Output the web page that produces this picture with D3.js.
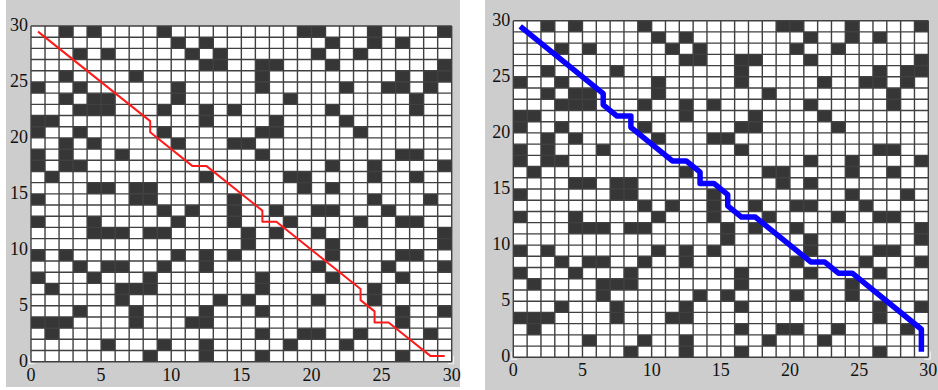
<!DOCTYPE html>
<html>
<head>
    <title>Grid path planning</title>
    <script src="https://d3js.org/d3.v7.min.js"></script>
    <style>
        body { margin: 0; background: #fff; }
        svg { display: block; }
    </style>
</head>
<body>
    <div id="chart"></div>
    <script>
        // Grid size
        const gridCols = 30;
        const gridRows = 30;

        // Obstacle columns, one list per row (row 0 = bottom)
        const obstacleCols = [
            [8, 12, 16, 26],
            [5, 9, 12, 18, 22],
            [1, 16, 19, 20, 23, 28],
            [0, 1, 2, 7, 11, 12, 26],
            [3, 7, 12, 16, 26, 29],
            [6, 13, 15, 20, 24],
            [1, 6, 7, 8, 16, 24],
            [0, 4, 8, 16, 21, 26],
            [3, 5, 6, 9, 12, 20, 25, 29],
            [0, 2, 10, 12, 14, 21, 26, 27],
            [15, 21, 29],
            [4, 5, 6, 8, 9, 15, 17, 20, 29],
            [0, 4, 10, 14, 18, 23, 26, 27],
            [9, 11, 14, 17, 20, 21, 25],
            [0, 7, 8, 14, 24, 28],
            [4, 5, 7, 8, 19, 21],
            [1, 12, 18, 19, 24, 27],
            [0, 2, 3, 21, 24, 29],
            [0, 2, 6, 16, 26, 27],
            [2, 4, 10, 14, 15],
            [0, 3, 9, 16, 17, 23],
            [0, 1, 12, 17, 22],
            [3, 4, 5, 9, 12, 14, 21, 27],
            [2, 4, 5, 10, 18, 27],
            [0, 3, 10, 16, 22, 25, 26, 28],
            [2, 7, 16, 26, 28, 29],
            [12, 13, 16, 17, 21, 29],
            [3, 5, 11, 13, 20, 23],
            [10, 12, 21, 24, 26],
            [2, 4, 9, 19, 20, 24, 29]
        ];

        // Paths through cell centres
        const redPath = [
            [0.5, 29.5], [8.5, 21.5], [8.5, 20.5], [11.5, 17.5], [12.5, 17.5],
            [16.5, 13.5], [16.5, 12.5], [17.5, 12.5], [23.5, 6.5], [23.5, 5.5],
            [24.5, 4.5], [24.5, 3.5], [25.5, 3.5], [28.5, 0.5], [29.5, 0.5]
        ];
        const bluePath = [
            [0.5, 29.5], [6.5, 23.5], [6.5, 22.5], [7.5, 21.5], [8.5, 21.5],
            [8.5, 20.5], [11.5, 17.5], [12.5, 17.5], [13.5, 16.5], [13.5, 15.5],
            [14.5, 15.5], [15.5, 14.5], [15.5, 13.5], [16.5, 12.5], [17.5, 12.5],
            [21.5, 8.5], [22.5, 8.5], [23.5, 7.5], [24.5, 7.5], [29.5, 2.5],
            [29.5, 0.5]
        ];

        const tickValues = [0, 5, 10, 15, 20, 25, 30];

        const width = 938;
        const height = 390;
        const labelFont = "'Liberation Serif', 'Times New Roman', Times, 'DejaVu Serif', serif";

        const svg = d3.select('#chart')
            .append('svg')
            .attr('width', width)
            .attr('height', height);

        // Panel layouts
        const panels = [
            { bg: [6, 0, 454, 387], left: 31, right: 451.7, top: 26, bottom: 361.7,
              path: redPath, color: '#ff1a1a', lineWidth: 2 },
            { bg: [485, 0, 453, 390], left: 513.3, right: 928.3, top: 20.7, bottom: 357.3,
              path: bluePath, color: '#0a00ff', lineWidth: 5.5 }
        ];

        // Flatten cells
        const cells = [];
        for (let r = 0; r < gridRows; r++) {
            for (let c = 0; c < gridCols; c++) {
                cells.push({ c, r, blocked: obstacleCols[r].includes(c) });
            }
        }

        panels.forEach(p => {
            const x = d3.scaleLinear().domain([0, gridCols]).range([p.left, p.right]);
            const y = d3.scaleLinear().domain([0, gridRows]).range([p.bottom, p.top]);
            const g = svg.append('g');

            g.append('rect')
                .attr('x', p.bg[0]).attr('y', p.bg[1])
                .attr('width', p.bg[2]).attr('height', p.bg[3])
                .attr('fill', '#cdcdcd');

            // cells
            g.append('g')
                .selectAll('rect')
                .data(cells)
                .join('rect')
                .attr('x', d => x(d.c))
                .attr('y', d => y(d.r + 1))
                .attr('width', x(1) - x(0))
                .attr('height', y(0) - y(1))
                .attr('fill', d => d.blocked ? '#363636' : '#ffffff');

            // grid lines
            const lines = g.append('g').attr('stroke', '#404040').attr('stroke-width', 1.4);
            lines.selectAll('.v')
                .data(d3.range(0, gridCols + 1))
                .join('line')
                .attr('x1', d => x(d)).attr('x2', d => x(d))
                .attr('y1', y(0)).attr('y2', y(gridRows));
            lines.selectAll('.h')
                .data(d3.range(0, gridRows + 1))
                .join('line')
                .attr('y1', d => y(d)).attr('y2', d => y(d))
                .attr('x1', x(0)).attr('x2', x(gridCols));

            // little corner stubs of the axes
            g.append('path')
                .attr('d', `M${x(0) - 2},${y(0) - 6}V${y(0) + 2}H${x(0) + 4}`)
                .attr('fill', 'none').attr('stroke', '#f4f4f4').attr('stroke-width', 1);
            g.append('path')
                .attr('d', `M${x(30) - 4},${y(0) + 2}H${x(30) + 2}V${y(0) - 6}`)
                .attr('fill', 'none').attr('stroke', '#f4f4f4').attr('stroke-width', 1);

            // path
            const line = d3.line().x(d => x(d[0])).y(d => y(d[1]));
            g.append('path')
                .datum(p.path)
                .attr('d', line)
                .attr('fill', 'none')
                .attr('stroke', p.color)
                .attr('stroke-width', p.lineWidth)
                .attr('stroke-linejoin', 'round')
                .attr('stroke-linecap', 'butt');

            // tick labels
            const labels = g.append('g')
                .attr('font-family', labelFont)
                .attr('font-size', 18)
                .attr('fill', '#111');
            labels.selectAll('.xl')
                .data(tickValues)
                .join('text')
                .attr('x', d => x(d))
                .attr('y', y(0) + 19)
                .attr('text-anchor', 'middle')
                .text(d => d);
            labels.selectAll('.yl')
                .data(tickValues)
                .join('text')
                .attr('x', x(0) - 3)
                .attr('y', d => y(d) + 5)
                .attr('text-anchor', 'end')
                .text(d => d);
        });
    </script>
</body>
</html>
